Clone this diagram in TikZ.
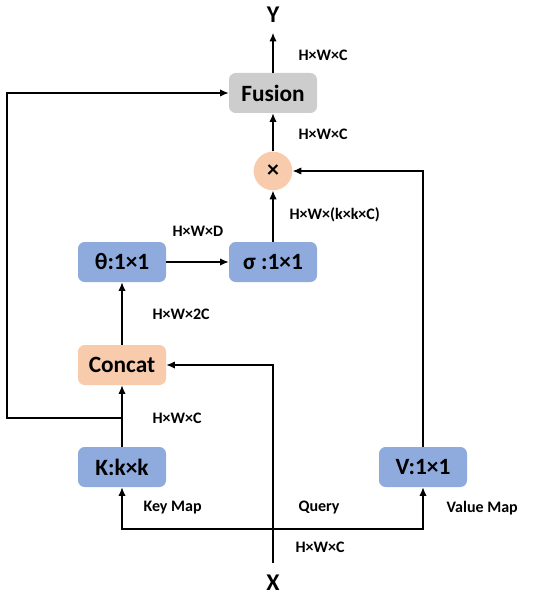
\documentclass[tikz,border=0pt]{standalone}
\usepackage{fontspec}
\setmainfont{Carlito}
\usetikzlibrary{calc,positioning,arrows,arrows.meta,fit,shapes}
\definecolor{convblue}{HTML}{8FAADC}
\definecolor{catorange}{HTML}{F8CBAD}
\definecolor{fusegrey}{HTML}{CDCDCD}

\begin{document}
\begin{tikzpicture}[x=0.75pt,y=-0.75pt,blk/.style={fill=convblue,rounded corners=5pt,minimum width=66pt,minimum height=30pt,font=\bfseries\fontsize{17.5}{18}\selectfont},dim/.style={anchor=west,inner sep=1pt,font=\bfseries\fontsize{12}{12}\selectfont},io/.style={font=\bfseries\fontsize{18}{18}\selectfont},lnk/.style={-{Latex[length=6.5pt,width=5.5pt]},line width=1pt}]
  \useasboundingbox (0,0) rectangle (550,598);
  \node[io] (y) at (273,15) {Y};
  \node[blk,fill=fusegrey] (fus) at (273,93) {Fusion};
  \node[circle,fill=catorange,minimum size=29pt,inner sep=0pt,font=\bfseries\fontsize{18}{18}\selectfont] (mul) at (273,171) {×};
  \node[blk] (theta) at (122,262) {θ:1×1};
  \node[blk] (sigma) at (273,262) {σ :1×1};
  \node[blk,fill=catorange] (cat) at (122,365) {Concat};
  \node[blk] (key) at (122,467) {K:k×k};
  \node[blk] (val) at (423,467) {V:1×1};
  \node[io] (x) at (273,583) {X};
  \coordinate (xin) at (273,563);
  \coordinate (split) at (273,529);
  \coordinate (fork) at (122,418);
  \coordinate (lft) at (7,93);

  \node[dim] (d1) at (297,55) {H×W×C};
  \node[dim] (d2) at (297,134) {H×W×C};
  \node[dim] (d3) at (288,215) {H×W×(k×k×C)};
  \node[dim] (d4) at (171,231) {H×W×D};
  \node[dim] (d5) at (151,314) {H×W×2C};
  \node[dim] (d6) at (151,418) {H×W×C};
  \node[dim] (keym) at (142,508) {Key Map};
  \node[dim] (qry) at (297,508) {Query};
  \node[dim] (valm) at (445,508) {Value Map};
  \node[dim] (d7) at (294,547) {H×W×C};

  \draw[lnk,shorten >=4pt] (fus) -- (y);
  \draw[lnk] (mul) -- (fus);
  \draw[lnk] (sigma) -- (mul);
  \draw[lnk] (theta) -- (sigma);
  \draw[lnk] (cat) -- (theta);
  \draw[lnk] (key) -- (cat);
  \draw[lnk] (val) |- (mul);
  \draw[lnk] (fork) -| (lft) -- (fus);
  \draw[lnk] (xin) |- (cat);
  \draw[lnk] (split) -| (key);
  \draw[lnk] (split) -| (val);
 \end{tikzpicture}
\end{document}
